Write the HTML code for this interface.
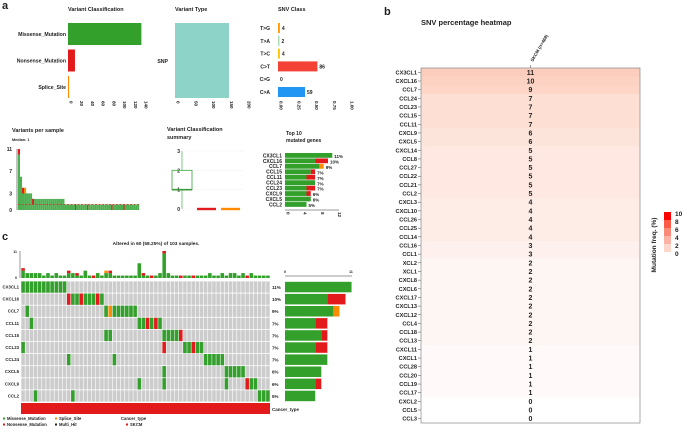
<!DOCTYPE html>
<html><head><meta charset="utf-8">
<style>
html,body{margin:0;padding:0;background:#fff;}
svg{display:block;font-family:"Liberation Sans",sans-serif;}
.t{font-weight:bold;fill:#222;}
</style></head>
<body>
<svg id="fig" width="685" height="430" viewBox="0 0 685 430" xmlns="http://www.w3.org/2000/svg">
<text class="t" x="2" y="9" font-size="11">a</text>
<text class="t" x="384" y="15" font-size="11">b</text>
<text class="t" x="2" y="240" font-size="11">c</text>
<text class="t" x="68" y="11" font-size="5.5">Variant Classification</text>
<text class="t" x="175" y="11" font-size="5.5">Variant Type</text>
<text class="t" x="278" y="11" font-size="5.5">SNV Class</text>
<text class="t" x="12" y="132" font-size="5.5">Variants per sample</text>
<text class="t" x="12" y="141" font-size="3.8">Median: 1</text>
<text class="t" x="167" y="131" font-size="5.5">Variant Classification</text>
<text class="t" x="167" y="139" font-size="5.5">summary</text>
<text class="t" x="286" y="135" font-size="5">Top 10</text>
<text class="t" x="286" y="142" font-size="5">mutated genes</text>
<text class="t" x="156" y="245" font-size="4.8" text-anchor="middle">Altered in 60 (58.25%) of 103 samples.</text>
<text class="t" x="421" y="25" font-size="7.5">SNV percentage heatmap</text>
<text class="t" x="0" y="0" font-size="4.5" transform="translate(533,62) rotate(-60)">SKCM (n=468)</text>
<text class="t" x="0" y="0" font-size="6.5" text-anchor="middle" transform="translate(656,245) rotate(-90)">Mutation freq. (%)</text>
<g id="g"></g>
</svg>
<script>
// ---- data ----
const vcCats=['Missense_Mutation','Nonsense_Mutation','Splice_Site'];
const vcVals=[137,13,2];
const vtCats=['SNP'];
const vtVals=[152];
const snvCats=['T>G','T>A','T>C','C>T','C>G','C>A'];
const snvCounts=[4,2,4,86,0,59];
const vpsTotal=[11,6,4,4,3,3,3,2,2,2,2,2,2,2,2,2,2,2,2,2,2,2,2,1,1,1,1,1,1,1,1,1,1,1,1,1,1,1,1,1,1,1,1,1,1,1,1,1,1,1,1,1,1,1,1,1,1,1,1,1];
const vpsRed=[1,0,1,1,0,0,0,1,0,0,0,0,0,0,0,0,0,0,0,0,0,0,0,0,0,0,0,0,1,0,0,0,0,0,1,0,0,0,0,0,0,0,0,0,0,0,1,0,0,0,0,0,1,0,0,0,0,0,0,0];
const boxStats=[0,1,1,2,3];
const top10Genes=['CX3CL1','CXCL16','CCL7','CCL15','CCL11','CCL24','CCL23','CXCL9','CXCL5','CCL2'];
const top10Green=[11,7,8,6,5,7,5,5,6,5];
const top10Red=[0,3,0,1,2,0,2,1,0,0];
const top10Orange=[0,0,1,0,0,0,0,0,0,0];
const top10Pct=['11%','10%','9%','7%','7%','7%','7%','6%','6%','5%'];
const oncoGenes=['CX3CL1','CXCL16','CCL7','CCL11','CCL15','CCL23','CCL24','CXCL5','CXCL9','CCL2'];
const oncoPct=['11%','10%','9%','7%','7%','7%','7%','6%','6%','5%'];
const oncoMut=[
 'g0 g1 g2 g3 g4 g5 g6 g7 g8 g9 g10',
 'r11 g12 g13 r14 g15 g16 g17 r18 g19',
 'g1 g20 o21 g22 g23 g24 g25 g26 g27',
 'g2 g28 g29 r30 g31 r32 g33',
 'g20 g21 g34 g35 g36 g37 r38',
 'g0 r34 g39 g40 r41 g42 g43',
 'g11 g22 g44 g45 g46 g47 g48',
 'g34 g49 g50 g51 g52 g53',
 'g28 g34 g49 r54 g55 g56',
 'g3 g12 g57 g58 g59'];
const rbGreen=[11,7,8,5,6,5,7,6,5,5];
const rbRed=[0,3,0,2,1,2,0,0,1,0];
const rbOrange=[0,0,1,0,0,0,0,0,0,0];
const tbGreen=[3,2,2,2,2,1,2,1,2,1,1,2,2,1,1,3,1,0,2,1,2,2,1,1,1,1,1,1,6,1,1,0,1,2,10,2,1,1,0,1,1,0,1,1,1,2,1,1,2,1,2,2,1,2,0,2,1,1,1,1];
const tbRed=[1,0,0,0,0,0,0,0,0,0,0,1,0,1,0,0,0,1,0,0,0,1,0,0,0,0,0,0,0,1,0,1,0,0,1,0,0,0,1,0,0,1,0,0,0,0,0,0,0,0,0,0,0,0,1,0,0,0,0,0];
const tbOrange=[0,0,0,0,0,0,0,0,0,0,0,0,0,0,0,0,0,0,0,0,1,0,0,0,0,0,0,0,0,0,0,0,0,0,0,0,0,0,0,0,0,0,0,0,0,0,0,0,0,0,0,0,0,0,0,0,0,0,0,0];
const hmGenes=['CX3CL1','CXCL16','CCL7','CCL24','CCL23','CCL15','CCL11','CXCL9','CXCL5','CXCL14','CCL8','CCL27','CCL22','CCL21','CCL2','CXCL3','CXCL10','CCL26','CCL25','CCL14','CCL16','CCL1','XCL2','XCL1','CXCL8','CXCL6','CXCL17','CXCL13','CXCL12','CCL4','CCL18','CCL13','CXCL11','CXCL1','CCL28','CCL20','CCL19','CCL17','CXCL2','CCL5','CCL3'];
const hmVals=[11,10,9,7,7,7,7,6,6,5,5,5,5,5,5,4,4,4,4,4,3,3,2,2,2,2,2,2,2,2,2,2,1,1,1,1,1,1,0,0,0];
const cbLabels=['10','8','6','4','2','0'];
const G='#33a02c',R='#e31a1c',O='#ff8c00';
const NS='http://www.w3.org/2000/svg';
const root=document.getElementById('g');
function mk(tag,at){const e=document.createElementNS(NS,tag);for(const k in at)e.setAttribute(k,at[k]);root.appendChild(e);return e;}
function tx(x,y,s,fs,anchor,extra){const e=mk('text',Object.assign({x:x,y:y,'font-size':fs,'text-anchor':anchor||'start','class':'t'},extra||{}));e.textContent=s;return e;}

// ---- Variant classification ----
const xVC=v=>68+v*(143-68)/140;
vcCats.forEach((c,i)=>{
 const y=23+i*26.5;
 const b=mk('rect',{x:xVC(0),y:y,width:xVC(vcVals[i])-xVC(0),height:22,fill:[G,R,O][i]});
 
 
 const l=tx(66,y+13,c,5.2,'end');
 
 
});
for(let v=0;v<=140;v+=20){const t=tx(0,0,String(v),4.5,'start',{transform:'translate('+(xVC(v)+1.5)+',101) rotate(90)'});
 
 }
// ---- Variant type ----
const xVT=v=>175+v*(246-175)/200;
vtVals.forEach((v,i)=>{const b=mk('rect',{x:xVT(0),y:23,width:xVT(v)-xVT(0),height:75,fill:'#8dd3c7'});
 
 
 const l=tx(168,63,vtCats[i],5.2,'end');
 
 });
for(let v=0;v<=200;v+=50){const t=tx(0,0,String(v),4.5,'start',{transform:'translate('+(xVT(v)+1.5)+',101) rotate(90)'});
 
 }
// ---- SNV class ----
const snvTot=snvCounts.reduce((a,b)=>a+b,0);
const xSN=f=>278+f*71;
const snvCol=['#ff9800','#a8ddb5','#ffc107','#f44336','#222','#2196f3'];
snvCats.forEach((c,i)=>{
 const y=28+i*12.8;
 const w=Math.max(xSN(snvCounts[i]/snvTot)-xSN(0),snvCounts[i]?1.5:0);
 const b=mk('rect',{x:xSN(0),y:y-5,width:w,height:10,fill:snvCol[i]});
 
 
 const l=tx(270,y+2,c,5,'end');
 
 
 const v=tx(xSN(0)+w+2,y+2,String(snvCounts[i]),5,'start');
 
 
});
['0.00','0.25','0.50','0.75','1.00'].forEach((s,i)=>{const t=tx(0,0,s,4.5,'start',{transform:'translate('+(xSN(i*0.25)+1.5)+',101) rotate(90)'});
 
 });
// ---- Variants per sample ----
const yVP=v=>210-v*(61/11);
const ax1=mk('path',{d:'M17 149 V210',stroke:'#333','stroke-width':0.6});


[0,3,7,11].forEach(v=>{const t=tx(12,yVP(v)+2,String(v),5,'end');
 
 });
vpsTotal.forEach((v,i)=>{const x=18+i*2.02;
 const b=mk('rect',{x:x,y:yVP(v),width:2,height:yVP(0)-yVP(v),fill:'#4caf50'});
 
 
 if(vpsRed[i]){
  const full=v===1;
  const r=mk('rect',{x:full?x+0.5:x,y:yVP(v),width:full?1:2,height:yVP(v-vpsRed[i])-yVP(v),fill:i==3?O:R});
  
  }});
const med=mk('path',{d:'M18 '+yVP(1)+' H139',stroke:R,'stroke-width':0.6,'stroke-dasharray':'2,1.5'});


// ---- VC summary box ----
const yBX=v=>209-v*(58/3);
for(let v=0;v<=3;v++){const gl=mk('path',{d:'M184 '+yBX(v)+' H244',stroke:'#ddd','stroke-width':0.4,'stroke-dasharray':'1,1'});
 
 
 const t=tx(180,yBX(v)+2,String(v),5,'end');
 
 }
const wh=mk('path',{d:'M182 '+yBX(boxStats[0])+' V'+yBX(boxStats[1])+' M182 '+yBX(boxStats[3])+' V'+yBX(boxStats[4]),stroke:'#4caf50','stroke-width':0.7});


const bx=mk('rect',{x:172,y:yBX(boxStats[3]),width:20,height:yBX(boxStats[1])-yBX(boxStats[3]),fill:'none',stroke:'#4caf50','stroke-width':0.9});


const md=mk('path',{d:'M172 '+yBX(boxStats[2])+' H192',stroke:'#3a9a3a','stroke-width':1.6});


[[197,R],[221,O]].forEach(a=>{const r=mk('rect',{x:a[0],y:yBX(0)-1.2,width:19,height:2.4,fill:a[1]});
 
 });
// ---- Top 10 ----
const xT=v=>285+v*4.3;
top10Genes.forEach((gname,i)=>{const y=153+i*5.45;
 let x=xT(0);
 [[top10Green[i],G],[top10Red[i],R],[top10Orange[i],O]].forEach(p=>{if(!p[0])return;const w=xT(p[0])-xT(0);
  const b=mk('rect',{x:x,y:y,width:w,height:4.8,fill:p[1]});
  
  x+=w;});
 const l=tx(282,y+4.3,gname,5,'end');
 
 
 const p=tx(x+2,y+5,top10Pct[i],4.5,'start');
 
 });
const ax2=mk('path',{d:'M285 210 H339',stroke:'#333','stroke-width':0.5});


[0,4,8,12].forEach(v=>{const t=tx(0,0,String(v),4.5,'start',{transform:'translate('+(xT(v)+1.5)+',212) rotate(90)'});
 
 });
// ---- Oncoplot ----
const CW=4.15,X0=21,Y0=281,RH=12.1;
const yTB=v=>278-v*(27/11);
const tba=mk('path',{d:'M20 251 V278',stroke:'#333','stroke-width':0.5});


[['11',253],['0',279]].forEach(a=>{const t=tx(17,a[1],a[0],3.5,'end');
 
 });
for(let i=0;i<60;i++){let base=0;const x=X0+i*CW+0.3;
 [[tbGreen[i],G],[tbOrange[i],O],[tbRed[i],R]].forEach(p=>{if(!p[0])return;
  const b=mk('rect',{x:x,y:yTB(base+p[0]),width:CW-0.6,height:yTB(base)-yTB(base+p[0]),fill:p[1]});
  
  base+=p[0];});}
oncoGenes.forEach((gname,r)=>{const y=Y0+r*RH;
 for(let i=0;i<60;i++){const c=mk('rect',{x:X0+i*CW+0.3,y:y+0.4,width:CW-0.6,height:RH-0.8,fill:'#cccccc'});
  
  }
 oncoMut[r].split(' ').forEach(m=>{const col=+m.slice(1);const f={g:G,r:R,o:O}[m[0]];
  const c=mk('rect',{x:X0+col*CW+0.3,y:y+0.4,width:CW-0.6,height:RH-0.8,fill:f});
  
  });
 const l=tx(19,y+7.5,gname,4.3,'end');
 
 
 const p=tx(272,y+8,oncoPct[r],4.5,'start');
 
 
 let x=285;
 [[rbGreen[r],G],[rbRed[r],R],[rbOrange[r],O]].forEach(q=>{if(!q[0])return;const w=q[0]*6.05;
  const b=mk('rect',{x:x,y:y+0.8,width:w,height:RH-1.6,fill:q[1]});
  
  x+=w;});});
const rba=mk('path',{d:'M285 276 H352',stroke:'#333','stroke-width':0.5});


[['0',285],['11',351]].forEach(a=>{const t=tx(a[1],273,a[0],3.5,'middle');
 
 });
const ct=mk('rect',{x:21,y:403,width:249,height:11,fill:R});


const ctl=tx(272,411,'Cancer_type',4.5,'start');


[[3,420,G,'Missense_Mutation'],[55,420,O,'Splice_Site'],[3,426,R,'Nonsense_Mutation'],[55,426,'#222','Multi_Hit'],[126,426,R,'SKCM']].forEach(a=>{
 const s=mk('rect',{x:a[0],y:a[1]-2.5,width:2,height:2,fill:a[2]});
 
 
 const t=tx(a[0]+4,a[1],a[3],4.2,'start');
 
 });
const ctt=tx(121,420,'Cancer_type',4.2,'start');


// ---- Heatmap ----
const HX=421,HW=219,HY=68,HH=(423-68)/hmGenes.length;
function heat(v){const f=Math.min(v/11,1);const r=Math.round(255-f*3),g=Math.round(255-f*50),b=Math.round(255-f*67);return 'rgb('+r+','+g+','+b+')';}
hmGenes.forEach((gname,i)=>{const y=HY+i*HH;
 const c=mk('rect',{x:HX,y:y,width:HW,height:HH+0.3,fill:heat(hmVals[i])});
 
 
 const v=tx(HX+HW/2,y+HH/2+2.5,String(hmVals[i]),7,'middle');
 
 
 const l=tx(417,y+HH/2+2,gname,5.6,'end');
 
 
 const tk=mk('path',{d:'M418 '+(y+HH/2)+' H421',stroke:'#444','stroke-width':0.5});
 
 });
const hb=mk('rect',{x:HX,y:HY,width:HW,height:423-HY,fill:'none',stroke:'#888','stroke-width':0.7});


const ctk=mk('path',{d:'M530.5 65 V68',stroke:'#444','stroke-width':0.5});


const cbCols=['#fe0000','#fd5b48','#fc8a78','#fcb3a4','#fdd6cc'];
cbCols.forEach((c,i)=>{const r=mk('rect',{x:664,y:212+i*8,width:7,height:8,fill:c});
 
 });
cbLabels.forEach((s,i)=>{const t=tx(675,216+i*8,s,6.5,'start');
 
 });
</script>
</body></html>
